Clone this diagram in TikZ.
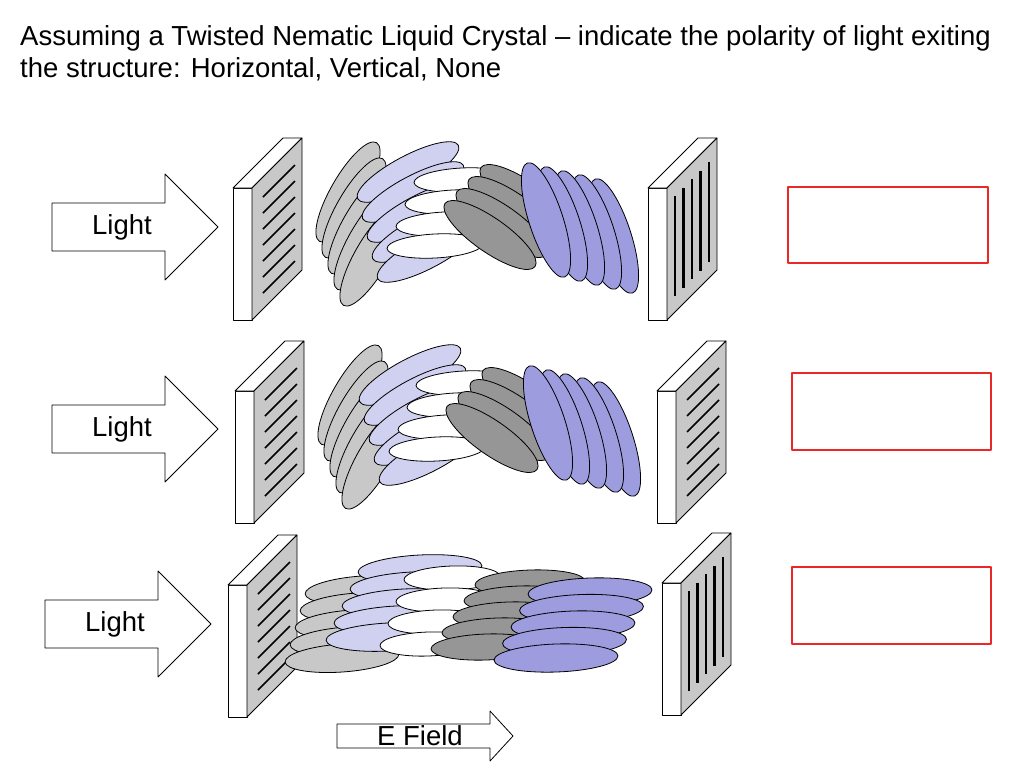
\documentclass[tikz,border=0pt]{standalone}
\usepackage{fontspec}
\setmainfont{Liberation Sans}
\begin{document}
\begin{tikzpicture}[x=1pt,y=-1pt,line join=round,
  lc/.style={draw=black,line width=0.8pt},
  redbox/.style={draw={rgb,255:red,235;green,40;blue,40},line width=2.6pt},
  lbl/.style={font=\fontsize{27.5}{32}\selectfont,inner sep=0pt}]
\definecolor{lgray}{RGB}{200,200,200}
\definecolor{dgray}{RGB}{150,150,150}
\definecolor{lav}{RGB}{208,208,240}
\definecolor{blu}{RGB}{156,156,222}
\useasboundingbox (0,0) rectangle (1024,777);
% title
\node[lbl,anchor=base west] (t1) at (20,45) {Assuming a Twisted Nematic Liquid Crystal -- indicate the polarity of light exiting};
\node[lbl,anchor=base west] (t2) at (20,77) {the structure: Horizontal, Vertical, None};
% polarizer
\newcommand{\polfr}[3]{% x y type(0 diag,1 bars)
 \begin{scope}[shift={(#1,#2)}]
  \draw[lc,fill=white] (0,0) rectangle (19,132);
  \draw[lc,fill=white] (0,0) -- (50,-50) -- (69,-50) -- (19,0) -- cycle;
  \draw[lc,fill=lgray] (19,0) -- (69,-50) -- (69,82) -- (19,132) -- cycle;
  \ifnum#3=0
   \foreach \k in {0,...,6}{\draw[line width=1.6pt] ({19+50*0.22},{20+16*\k-50*0.22}) -- ({19+50*0.86},{20+16*\k-50*0.86});}
  \else
   \foreach \t in {0.16,0.33,0.5,0.67,0.84}{\draw[line width=2.6pt] ({19+50*\t},{16-50*\t}) -- ({19+50*\t},{116-50*\t});}
  \fi
 \end{scope}}
% big arrow
\newcommand{\bigarrow}[4]{% x y name text
 \draw[lc,fill=white] (#1,#2-24) -- (#1+113,#2-24) -- (#1+113,#2-53) -- (#1+166,#2) -- (#1+113,#2+53) -- (#1+113,#2+24) -- (#1,#2+24) -- cycle;
 \node[lbl] (#3) at (#1+70,#2) {#4};}
% ellipse
\newcommand{\lcell}[6]{\draw[lc,fill=#1,rotate around={#4:(#2,#3)}] (#2,#3) ellipse ({#5} and {#6});}
% twisted crystal
\newcommand{\twisted}[2]{%
 \begin{scope}[shift={(#1,#2)}]
  \foreach \i in {0,...,4}{\lcell{lgray}{348+6*\i}{192+16*\i}{60}{57}{17}}
  \foreach \i in {0,...,4}{\lcell{lav}{408+5*\i}{172+20*\i}{28}{57}{16}}
  \foreach \i in {0,...,3}{\lcell{white}{462-9*\i}{180+22*\i}{3}{48}{12}}
  \foreach \i in {3,2,1,0}{\lcell{dgray}{490+12*\i}{235-12*\i}{-35}{55}{17}}
  \foreach \i in {4,3,2,1,0}{\lcell{blu}{546+17*\i}{220+4*\i}{-72}{60}{17}}
 \end{scope}}
% row 1
\bigarrow{52}{227}{light1}{Light}
\polfr{233}{188}{0}
\twisted{0}{0}
\polfr{648}{188}{1}
\node[redbox,minimum width=200pt,minimum height=76pt] (box1) at (888,225) {};
% row 2
\bigarrow{52}{429}{light2}{Light}
\polfr{235}{391}{0}
\twisted{2}{203}
\polfr{657}{391}{0}
\node[redbox,minimum width=199pt,minimum height=77pt] (box2) at (891.5,411.5) {};
% row 3
\bigarrow{45}{624}{light3}{Light}
\polfr{228}{585}{0}
\foreach \i in {0,...,4}{\lcell{lgray}{362-5*\i}{590+17*\i}{4}{57}{14}}
\foreach \i in {0,...,4}{\lcell{lav}{420-8*\i}{569+17*\i}{3}{62}{14}}
\foreach \i in {0,...,3}{\lcell{white}{452-8*\i}{578+22*\i}{2}{48}{12}}
\foreach \i in {0,...,4}{\lcell{dgray}{530-11*\i}{583+16*\i}{2}{55}{13}}
\foreach \i in {0,...,4}{\lcell{blu}{590-8.5*\i}{592+16.5*\i}{2}{62}{14}}
\polfr{662}{583}{1}
\node[redbox,minimum width=199pt,minimum height=77pt] (box3) at (891.5,605.5) {};
% E field
\draw[lc,fill=white] (337,724) -- (490,724) -- (490,711) -- (513,736) -- (490,761) -- (490,748) -- (337,748) -- cycle;
\node[lbl] (ef) at (420,736) {E Field};
\end{tikzpicture}
\end{document}
